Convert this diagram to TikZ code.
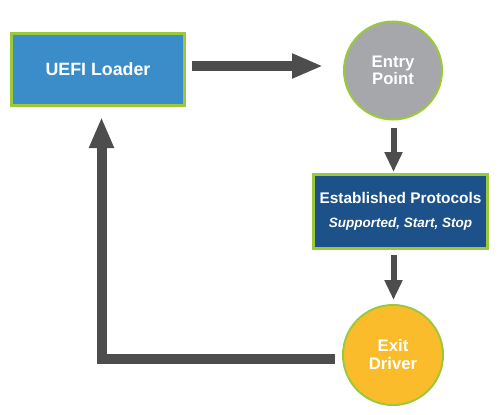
\documentclass[tikz,border=0pt]{standalone}
\usepackage{fontspec}
\setmainfont{Liberation Sans}
\usetikzlibrary{arrows.meta}
\definecolor{loaderblue}{HTML}{3A8DC9}
\definecolor{protblue}{HTML}{1C5189}
\definecolor{bordergreen}{HTML}{9CC93B}
\definecolor{entrygray}{HTML}{A6A7AB}
\definecolor{exityellow}{HTML}{FBBC2B}
\definecolor{arrowgray}{HTML}{4D4D4D}
\tikzset{
  boxnode/.style={draw=bordergreen, line width=3pt, text=white, inner sep=0pt, align=center},
  circnode/.style={circle, draw=bordergreen, line width=2pt, text=white, inner sep=0pt, align=center},
  bigarrow/.style={draw=arrowgray, line width=10pt, -{Triangle[length=31pt,width=23pt]}},
  smallarrow/.style={draw=arrowgray, line width=6pt, -{Triangle[length=20pt,width=17pt]}},
}
\begin{document}
\begin{tikzpicture}[x=1pt,y=-1pt]
\useasboundingbox (0,0) rectangle (498,415);
\node[boxnode, fill=loaderblue, minimum width=173pt, minimum height=72pt,
  font=\bfseries\fontsize{17.8}{20}\selectfont] (loader) at (98,69.5) {UEFI Loader};
\node[circnode, fill=entrygray, minimum size=98pt,
  font=\bfseries\fontsize{16.7}{16.5}\selectfont] (entry) at (393,70.5) {Entry\\Point};
\node[boxnode, fill=protblue, minimum width=174pt, minimum height=74pt,
  font=\bfseries\fontsize{15.4}{24}\selectfont] (prot) at (400.5,211.5)
  {Established Protocols\\
   {\fontsize{13.5}{24}\selectfont\itshape Supported, Start, Stop}};
\node[circnode, fill=exityellow, minimum size=100pt,
  font=\bfseries\fontsize{16.7}{18}\selectfont] (exit) at (393,355) {Exit\\Driver};
\draw[bigarrow, shorten <=6pt, shorten >=20pt] ([yshift=3.5pt]loader.east) -- ([yshift=4.5pt]entry.west);
\draw[smallarrow, shorten <=7pt, shorten >=1pt] ([xshift=0.5pt]entry.south) -- ([xshift=0.5pt]entry.south |- prot.north);
\draw[smallarrow, shorten <=5pt, shorten >=4pt] ([xshift=0.5pt]exit.north |- prot.south) -- ([xshift=0.5pt]exit.north);
\draw[bigarrow, shorten <=7pt, shorten >=10pt] ([yshift=-4pt]exit.west) -| ([xshift=3.5pt]loader.south);
\end{tikzpicture}
\end{document}
